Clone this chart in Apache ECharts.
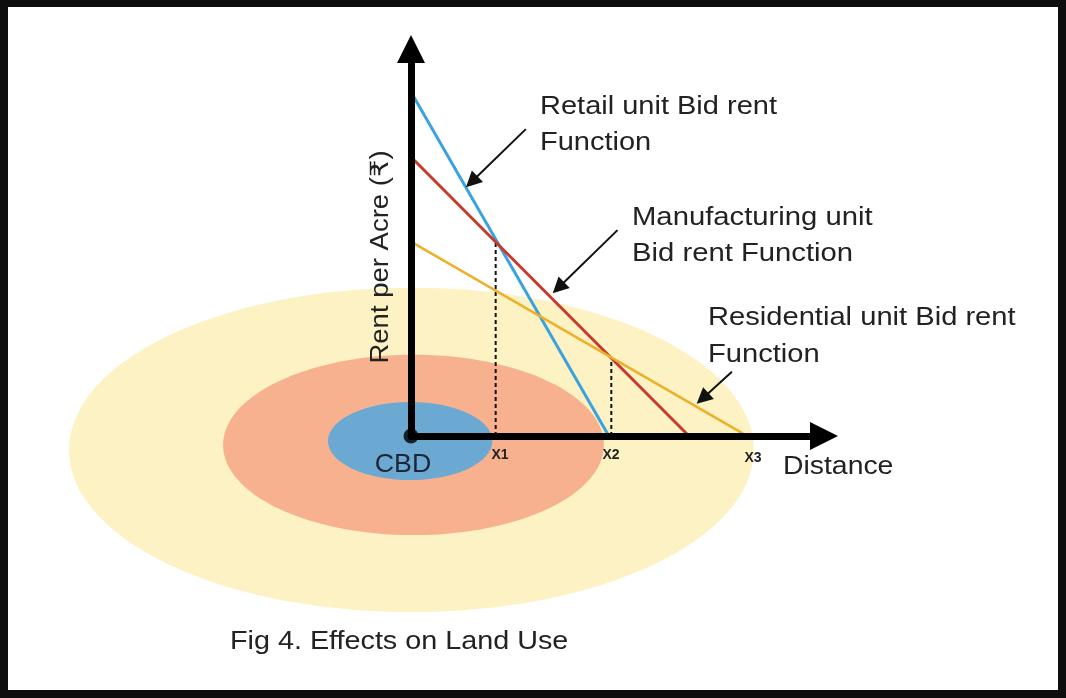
<!DOCTYPE html>
<html>
<head>
<meta charset="utf-8">
<script src="https://cdn.jsdelivr.net/npm/echarts@6/dist/echarts.min.js"></script>
<style>
  html, body { margin: 0; padding: 0; background: #0e0e0e; }
  #main { width: 1066px; height: 698px; }
</style>
</head>
<body>
<div id="main"></div>
<script>
// bid rent functions: [distance, rent] end points
var retailLine = [[0, 88.9], [47.9, 0]];
var manufacturingLine = [[0, 72.1], [67.3, 0]];
var residentialLine = [[0.5, 49.9], [80.4, 0.6]];

// dashed drop lines at the intersections
var dropX1 = [[20.5, 0], [20.5, 50.9]];
var dropX2 = [[48.5, 0], [48.5, 20.4]];

// land use zones: [cx, cy, rx, ry]
var zoneNames = ['Residential', 'Manufacturing', 'CBD'];
var zoneValues = [[0.1, -3.6, 82.9, 41.9], [0.6, -2.3, 46.1, 23.3], [-0.2, -1.3, 19.9, 10.1]];
var zoneColors = ['#fdf2c4', '#f7b18e', '#6ba8d2'];

// label pointer arrows (start -> end)
var pointerArrows = [
    [[27.8, 79.3], [14.7, 65.7]],
    [[50.0, 53.2], [35.7, 38.3]],
    [[77.7, 16.6], [70.6, 9.7]]
];

var FONT = "'Liberation Sans', Arial, 'DejaVu Sans', 'Noto Sans', sans-serif";
var TXT = '#222222';

var myChart = echarts.init(document.getElementById('main'));

// 文字标签（原图文字横向略宽，用 scaleX 拉伸）
function label(text, x, y, size, opts) {
    opts = opts || {};
    return {
        type: 'text',
        z: 100,
        x: x,
        y: y,
        rotation: opts.rotation || 0,
        scaleX: opts.sx || 1,
        style: {
            text: text,
            fill: opts.color || TXT,
            font: (opts.bold ? 'bold ' : '') + size + 'px ' + FONT,
            align: opts.align || 'left',
            verticalAlign: 'middle'
        }
    };
}

var option = {
    animation: false,
    backgroundColor: '#0e0e0e',
    grid: { left: 411, top: 49, right: 242, bottom: 262 },
    xAxis: {
        type: 'value', min: 0, max: 100, z: 5,
        axisLine: { lineStyle: { color: '#000', width: 7 }, symbol: ['none', 'triangle'], symbolSize: [28, 28] },
        axisTick: { show: false }, axisLabel: { show: false }, splitLine: { show: false }
    },
    yAxis: {
        type: 'value', min: 0, max: 100, z: 5,
        axisLine: { show: true, lineStyle: { color: '#000', width: 7 }, symbol: ['none', 'triangle'], symbolSize: [28, 28] },
        axisTick: { show: false }, axisLabel: { show: false }, splitLine: { show: false }
    },
    graphic: [
        { type: 'rect', z: -10, shape: { x: 8, y: 7, width: 1050, height: 683 }, style: { fill: '#ffffff' } },
        label('Retail unit Bid rent', 540, 107.5, 25, { sx: 1.16 }),
        label('Function', 540, 143, 25, { sx: 1.16 }),
        label('Manufacturing unit', 632, 218.5, 25, { sx: 1.17 }),
        label('Bid rent Function', 632, 254.5, 25, { sx: 1.17 }),
        label('Residential unit Bid rent', 708, 318.5, 25, { sx: 1.165 }),
        label('Function', 708, 355, 25, { sx: 1.165 }),
        label('Distance', 783, 467.5, 25, { sx: 1.135 }),
        label('CBD', 403, 465.5, 25, { align: 'center', color: '#1d2634', sx: 1.07 }),
        label('X1', 500, 455.5, 14, { align: 'center', bold: true }),
        label('X2', 611, 455.5, 14, { align: 'center', bold: true }),
        label('X3', 753, 458.5, 14, { align: 'center', bold: true }),
        label('Rent per Acre (\u20B9)', 381, 257, 25, { align: 'center', rotation: Math.PI / 2, sx: 1.1 }),
        label('Fig 4. Effects on Land Use', 230, 642.5, 25, { sx: 1.15 })
    ],
    series: [
        {
            type: 'custom',
            name: 'zones',
            z: 1,
            clip: false,
            renderItem: function (params, api) {
                var c = api.coord([api.value(0), api.value(1)]);
                var s = api.size([api.value(2), api.value(3)]);
                return {
                    type: 'ellipse',
                    shape: { cx: c[0], cy: c[1], rx: s[0], ry: s[1] },
                    style: { fill: api.visual('color') }
                };
            },
            data: zoneValues.map(function (v, i) {
                return { name: zoneNames[i], value: v, itemStyle: { color: zoneColors[i] } };
            })
        },
        {
            type: 'line', name: 'Retail', z: 3, symbol: 'none',
            lineStyle: { color: '#3aa2de', width: 3 }, data: retailLine
        },
        {
            type: 'line', name: 'Manufacturing', z: 3, symbol: 'none',
            lineStyle: { color: '#c63b2d', width: 3 }, data: manufacturingLine
        },
        {
            type: 'line', name: 'Residential', z: 3, symbol: 'none',
            lineStyle: { color: '#ecb02a', width: 2.5 }, data: residentialLine
        },
        {
            type: 'line', z: 2, symbol: 'none',
            lineStyle: { color: '#111', width: 2, type: [4, 3] }, data: dropX1
        },
        {
            type: 'line', z: 2, symbol: 'none',
            lineStyle: { color: '#111', width: 2, type: [4, 3] }, data: dropX2
        },
        {
            type: 'lines',
            coordinateSystem: 'cartesian2d',
            z: 6,
            symbol: ['none', 'triangle'],
            symbolSize: [12, 16],
            lineStyle: { color: '#111', width: 2, opacity: 1 },
            data: pointerArrows.map(function (a) { return { coords: a }; })
        },
        {
            type: 'scatter', z: 7, symbolSize: 15,
            itemStyle: { color: '#000' }, data: [[0, 0]]
        }
    ]
};

myChart.setOption(option);
</script>
</body>
</html>
